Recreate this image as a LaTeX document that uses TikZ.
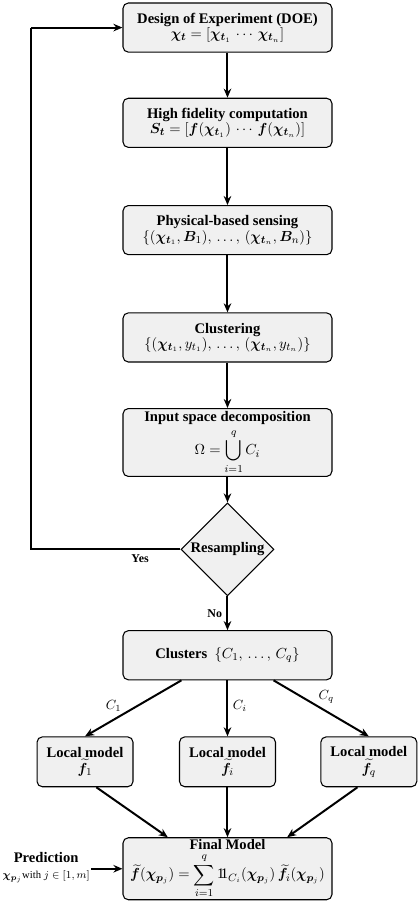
\documentclass[tikz,border=0pt]{standalone}
\usepackage{amsmath}
\usepackage{amssymb}
\usepackage{bm}
\usepackage{fontspec}
\setmainfont{Liberation Serif}
\usepackage{tikz}
\usetikzlibrary{shapes.geometric,arrows.meta}
\newcommand{\indicator}{\mathrm{1\mkern-4.5mu 1}}
\tikzset{
    stage/.style={rectangle, rounded corners=4pt, draw, line width=0.8pt,
    	fill=gray!12, align=center, minimum width=5.53cm, minimum height=1.30cm,
    	inner sep=2pt, font=\fontsize{11pt}{12.5pt}\selectfont}
}
\tikzset{
    localbox/.style={stage, minimum width=2.54cm, minimum height=1.32cm}
}
\tikzset{
    decision/.style={diamond, draw, line width=0.8pt, fill=gray!12, aspect=1,
    	minimum width=2.46cm, minimum height=2.46cm, inner sep=0pt,
    	font=\bfseries\fontsize{11pt}{12.5pt}\selectfont}
}
\tikzset{
    every edge/.append style={line width=1.5pt, -{Stealth[length=2.4mm,width=2mm]}}
}

\begin{document}
\begin{tikzpicture}
	\useasboundingbox (0,0) rectangle (11.11cm,-23.87cm);

	\node (doe) [stage] at (6.02cm, -0.73cm)
		{\textbf{Design of Experiment (DOE)}\\[-1pt]
		$\bm{\chi}_{\bm t} = [\bm\chi_{\bm t_1} \,\cdots\, \bm\chi_{\bm t_n}]$};
	\node (hifi) [stage] at (6.02cm, -3.25cm)
		{\textbf{High fidelity computation}\\[-1pt]
		$\bm S_{\bm t} = [\bm f(\bm\chi_{\bm t_1}) \,\cdots\, \bm f(\bm\chi_{\bm t_n})]$};
	\node (sens) [stage] at (6.02cm, -6.09cm)
		{\textbf{Physical-based sensing}\\[-1pt]
		$\{(\bm\chi_{\bm t_1},\bm B_1),\,\ldots,\,(\bm\chi_{\bm t_n},\bm B_n)\}$};
	\node (clust) [stage] at (6.02cm, -8.93cm)
		{\textbf{Clustering}\\[-1pt]
		$\{(\bm\chi_{\bm t_1},y_{t_1}),\,\ldots,\,(\bm\chi_{\bm t_n},y_{t_n})\}$};
	\node (decomp) [stage, minimum height=1.72cm] at (6.02cm, -11.71cm)
		{\textbf{Input space decomposition}\\[3pt]
		$\displaystyle \Omega = \bigcup_{i=1}^{q} C_i$};
	\node (resamp) [decision] at (6.02cm, -14.54cm) {Resampling};
	\node (clusters) [stage] at (6.02cm, -17.34cm)
		{\textbf{Clusters}\ \ $\{C_1,\,\ldots,\,C_q\}$};

	\node (loc1) [localbox] at (2.25cm, -20.16cm)
		{\textbf{Local model}\\ $\widetilde{\bm f}_1$};
	\node (loci) [localbox] at (6.02cm, -20.16cm)
		{\textbf{Local model}\\ $\widetilde{\bm f}_i$};
	\node (locq) [localbox] at (9.76cm, -20.16cm)
		{\textbf{Local model}\\ $\widetilde{\bm f}_q$};

	\node (final) [stage, minimum height=1.64cm, inner sep=1pt] at (6.02cm, -22.99cm)
		{\textbf{Final Model}\\[2pt]
		$\displaystyle \widetilde{\bm f}(\bm\chi_{\bm p_j}) = \sum_{i=1}^{q}
		\indicator_{C_i}(\bm\chi_{\bm p_j})\,\widetilde{\bm f}_i(\bm\chi_{\bm p_j})$};
	\node (pred) [align=center, inner sep=1pt] at (1.22cm, -22.97cm)
		{\fontsize{11pt}{12.5pt}\selectfont\textbf{Prediction}\\
		\fontsize{8pt}{9pt}\selectfont $\bm\chi_{\bm p_j}$with $j\in[1,m]$};

	\coordinate (back) at (0.82cm, -14.54cm);
	\coordinate (top) at (0.82cm, -0.73cm);

	\draw (doe) edge (hifi); \draw (hifi) edge (sens);
	\draw (sens) edge (clust); \draw (clust) edge (decomp);
	\draw (decomp) edge (resamp);
	\draw (resamp) edge node[left, font=\bfseries\small] {No} (clusters);
	\draw[line width=1.5pt] (resamp.west) -- node[pos=0.27, below, font=\bfseries\small] {Yes} (back) -- (top);
	\draw (top) edge (doe.west);

	\draw ([xshift=1.56cm]clusters.south west) edge node[pos=0.6, above left, inner sep=1pt] {$C_1$} (loc1.north);
	\draw (clusters) edge node[right, pos=0.45] {$C_i$} (loci);
	\draw ([xshift=-1.56cm]clusters.south east) edge node[pos=0.45, above right, inner sep=1pt] {$C_q$} (locq.north);

	\draw ([xshift=0.3cm]loc1.south) edge ([xshift=1.2cm]final.north west);
	\draw (loci) edge (final);
	\draw ([xshift=-0.3cm]locq.south) edge ([xshift=-1.2cm]final.north east);
	\draw (pred.east |- final.west) edge (final.west);
\end{tikzpicture}
\end{document}
